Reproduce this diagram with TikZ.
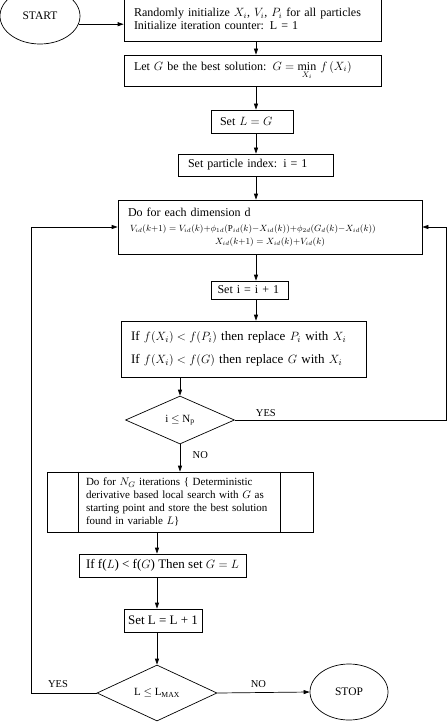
\documentclass[tikz,border=0pt]{standalone}
\usepackage{fontspec}
\setmainfont{Liberation Serif}
\usepackage{amsmath,amssymb}
\usetikzlibrary{arrows.meta,positioning,shapes.geometric,calc}

\begin{document}
\begin{tikzpicture}[
  x=1pt, y=-1pt,
  font=\fontsize{12}{13}\selectfont,
  line width=0.7pt,
  box/.style={draw, inner xsep=10pt, inner ysep=0pt, align=left},
  bigbox/.style={draw, inner sep=0pt, align=center, font=\fontsize{13}{14}\selectfont},
  terminal/.style={draw, ellipse, inner sep=0pt, font=\fontsize{11.5}{13}\selectfont},
  decision/.style={draw, diamond, aspect=2.2, inner sep=0pt, font=\fontsize{11}{13}\selectfont},
  arrow/.style={-{Triangle[length=6pt,width=4pt]}},
  lbl/.style={font=\fontsize{10.5}{12}\selectfont}
]
\useasboundingbox (0,0) rectangle (447,722);

% main column
\node[terminal, minimum width=80pt, minimum height=56pt] (start) at (40,16) {START};
\node[box, text width=237pt, minimum height=44pt] (init) at (252.5,19)
  {Randomly initialize $X_i$, $V_i$, $P_i$ for all particles\\Initialize iteration counter: L = 1};
\node[box, text width=237pt, minimum height=31pt] (best) at (252.5,70.5)
  {Let $G$ be the best solution: $G=\min\limits_{X_i}\, f\,(X_i)$};
\node[box, inner xsep=9pt, text width=64pt, minimum height=23pt] (setL) at (252,121.5) {Set $L = G$};
\node[box, text width=135pt, minimum height=22pt] (pidx) at (255.5,165) {Set particle index: i = 1};
\node[box, text width=284pt, minimum height=54pt] (dim) at (270,227)
  {Do for each dimension d\\[-1pt]
   {\fontsize{9}{16}\selectfont\hspace*{2pt}$V_{id}(k{+}1)=V_{id}(k){+}\phi_{1d}(\mathrm{P}_{id}(k){-}X_{id}(k)){+}\phi_{2d}(G_d(k){-}X_{id}(k))$\\
   \makebox[\linewidth]{$X_{id}(k{+}1)=X_{id}(k){+}V_{id}(k)$}}};
\node[box, inner xsep=6.5pt, text width=64pt, minimum height=18pt] (inc) at (249.5,290) {Set i = i + 1};
\node[box, font=\fontsize{13}{14}\selectfont, text width=225pt, minimum height=56pt] (update) at (243.5,349)
  {If $f(X_i) < f(P_i)$ then replace $P_i$ with $X_i$\\[9pt]
   If $f(X_i) < f(G)$ then replace $G$ with $X_i$};
\node[decision, minimum width=109pt, minimum height=48pt] (dec1) at (180,420) {i $\leq$ N$_\mathrm{p}$};

% local search and outer loop
\node[box, font=\fontsize{11}{13}\selectfont, inner xsep=39pt, text width=188pt, minimum height=60pt] (local) at (180,502)
  {Do for $N_G$ iterations \{ Deterministic\\derivative based local search with $G$ as\\
   starting point and store the best solution\\found in variable $L$\}};
\draw ([xshift=32pt]local.north west) -- ([xshift=32pt]local.south west);
\draw ([xshift=-33pt]local.north east) -- ([xshift=-33pt]local.south east);
\node[bigbox, minimum width=167pt, minimum height=23pt] (cmp) at (162.5,565.5)
  {If f($L$) < f($G$) Then set $G = L$};
\node[bigbox, minimum width=78pt, minimum height=23pt] (incL) at (163,620.5) {Set L = L + 1};
\node[decision, minimum width=120pt, minimum height=56pt] (dec2) at (157,693) {L $\leq$ L$_\mathrm{MAX}$};
\node[terminal, minimum width=78pt, minimum height=56pt] (stop) at (349,692) {STOP};

\coordinate (colA) at (256,0);
\coordinate (colB) at (157,0);
\coordinate (loopR) at (446,420);
\coordinate (loopL) at (31,693);

% connectors
\draw[arrow] (start.-12) -- (start.-12 -| init.west);
\foreach \a/\b in {init/best,best/setL,setL/pidx,pidx/dim,dim/inc,inc/update}
  {\draw[arrow] (\a.south -| colA) -- (\b.north -| colA);}
\draw[arrow] (update.south -| dec1) -- (dec1.north);
\draw[arrow] (dec1.east) -- (loopR) |- (dim.east);
\node[lbl, above] (yes1) at ($(dec1.east)+(31,0)$) {YES};
\draw[arrow] (dec1.south) -- (local.north);
\node[lbl, right] (no1) at ($(dec1.south)+(9,11)$) {NO};
\foreach \a/\b in {local/cmp,cmp/incL,incL/dec2}
  {\draw[arrow] (\a.south -| colB) -- (\b.north -| colB);}
\draw[arrow] (dec2.east) -- (stop.west);
\node[lbl, above] (no2) at ($(dec2.east)+(41,-2)$) {NO};
\draw[arrow] (dec2.west) -- (loopL) |- (dim.west);
\node[lbl, above] (yes2) at ($(loopL)+(27,-2)$) {YES};
\end{tikzpicture}
\end{document}
